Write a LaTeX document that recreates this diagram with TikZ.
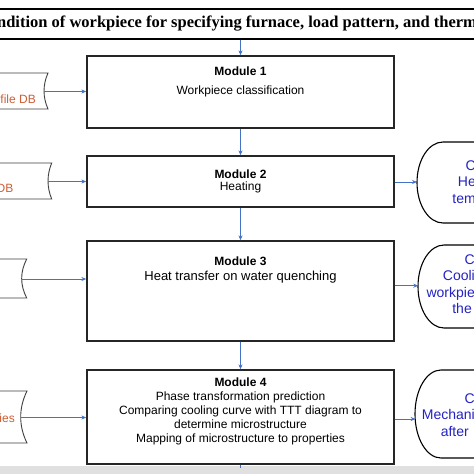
\documentclass[tikz,border=0pt]{standalone}
\usepackage{fontspec}
\setmainfont{Liberation Serif}
\setsansfont{Liberation Sans}
\usetikzlibrary{arrows.meta}

\definecolor{arrowblue}{RGB}{68,114,196}
\definecolor{dborange}{RGB}{205,95,55}
\definecolor{outblue}{RGB}{35,35,195}

\tikzset{
  module/.style={draw=black!85, line width=1.3pt, minimum width=307pt, inner sep=0pt},
  modtext/.style={font=\sffamily\fontsize{12}{14}\selectfont, align=center, inner sep=0pt, anchor=north},
  flow/.style={-{Stealth[length=5pt,width=4pt]}, draw=arrowblue, line width=0.9pt},
  dbshape/.style={draw=black!75, line width=0.9pt},
  dbtext/.style={text=dborange, font=\sffamily\fontsize{12}{14}\selectfont, inner sep=0pt, anchor=east},
  outshape/.style={draw=black, line width=1.1pt},
  outtext/.style={text=outblue, font=\sffamily\fontsize{14}{16.5}\selectfont, align=right, inner sep=0pt, anchor=east}
}

\begin{document}
\begin{tikzpicture}[x=1pt,y=-1pt]

\fill[white] (0,0) rectangle (474,474);
\useasboundingbox (0,0) rectangle (474,474);
\clip (0,0) rectangle (474,474);
\fill[black!12] (0,466) rectangle (474,474);

% title bar
\node[draw, line width=1.6pt, minimum width=540pt, minimum height=30pt, inner sep=0pt,
      font=\bfseries\fontsize{16.5}{18}\selectfont] (title) at (237,24)
  {ndition of workpiece for specifying furnace, load pattern, and therm};

% modules
\node[module, minimum height=72pt] (m1) at (240.5,92) {};
\node[module, minimum height=51pt] (m2) at (240.5,181.5) {};
\node[module, minimum height=100pt] (m3) at (240.5,291) {};
\node[module, minimum height=94pt] (m4) at (240.5,417) {};

\node[modtext] (t1) at ([yshift=-11.7pt]m1.north) {\textbf{Module 1}\\[5pt]Workpiece classification};
\node[modtext] (t2) at ([yshift=-14.7pt]m2.north) {\textbf{Module 2}\\[-2pt]Heating};
\node[modtext] (t3) at ([yshift=-16.7pt]m3.north) {\textbf{Module 3}\\[1pt]{\fontsize{13}{15}\selectfont Heat transfer on water quenching}};
\node[modtext] (t4) at ([yshift=-8.7pt]m4.north) {\textbf{Module 4}\\Phase transformation prediction\\Comparing cooling curve with TTT diagram to\\determine microstructure\\Mapping of microstructure to properties};

% databases on the left
\draw[dbshape] (-10,73) -- (48,73) .. controls (42.7,85) and (42.7,97) .. (48,109) -- (-10,109);
\draw[dbshape] (-10,163) -- (51.7,163) .. controls (46.8,175) and (46.8,187) .. (51.7,199) -- (-10,199);
\draw[dbshape] (-10,259) -- (26.7,259) .. controls (20,272) and (20,285) .. (26.7,298) -- (-10,298);
\draw[dbshape] (-10,391) -- (27,391) .. controls (18.6,408) and (18.6,426) .. (27,443) -- (-10,443);
\coordinate (db1) at (44,91.5);
\coordinate (db2) at (48,181.5);
\coordinate (db3) at (21.7,279);
\coordinate (db4) at (20.7,417.5);

\node[dbtext] (d1) at (36,99) {file DB};
\node[dbtext] (d2) at (13.5,188) {DB};
\node[dbtext] (d4) at (15,418) {ies};

% outputs on the right
\draw[outshape] (490,142) -- (443,142) arc[start angle=270, end angle=90, x radius=26, y radius=40.5] -- (490,223);
\draw[outshape] (490,245) -- (444,245) arc[start angle=270, end angle=90, x radius=26, y radius=41.5] -- (490,328);
\draw[outshape] (490,370) -- (441,370) arc[start angle=270, end angle=90, x radius=26, y radius=44] -- (490,458);
\coordinate (o1) at (417,182);
\coordinate (o2) at (418.3,285.7);
\coordinate (o3) at (415.6,419);

\node[outtext] (r1) at (476,182) {C\\He\\tem};
\node[outtext] (r2) at (475,284) {C\\Cooli\\workpie\\the\hspace*{3pt}};
\node[outtext] (r3) at (475,415) {C\\Mechani\\after\hspace*{6pt}};

% connectors
\draw[flow] (title.south -| m1.north) -- (m1.north);
\draw[flow] (m1.south) -- (m2.north);
\draw[flow] (m2.south) -- (m3.north);
\draw[flow] (m3.south) -- (m4.north);
\coordinate (m4out) at (240.5,468);
\draw[arrowblue, line width=0.9pt] (m4.south) -- (m4out);

\draw[flow] (db1) -- (db1 -| m1.west);
\draw[flow] (db2) -- (db2 -| m2.west);
\draw[flow] (db3) -- (db3 -| m3.west);
\draw[flow] (db4) -- (db4 -| m4.west);

\draw[flow] (o1 -| m2.east) -- (o1);
\draw[flow] (o2 -| m3.east) -- (o2);
\draw[flow] (o3 -| m4.east) -- (o3);

\end{tikzpicture}
\end{document}
